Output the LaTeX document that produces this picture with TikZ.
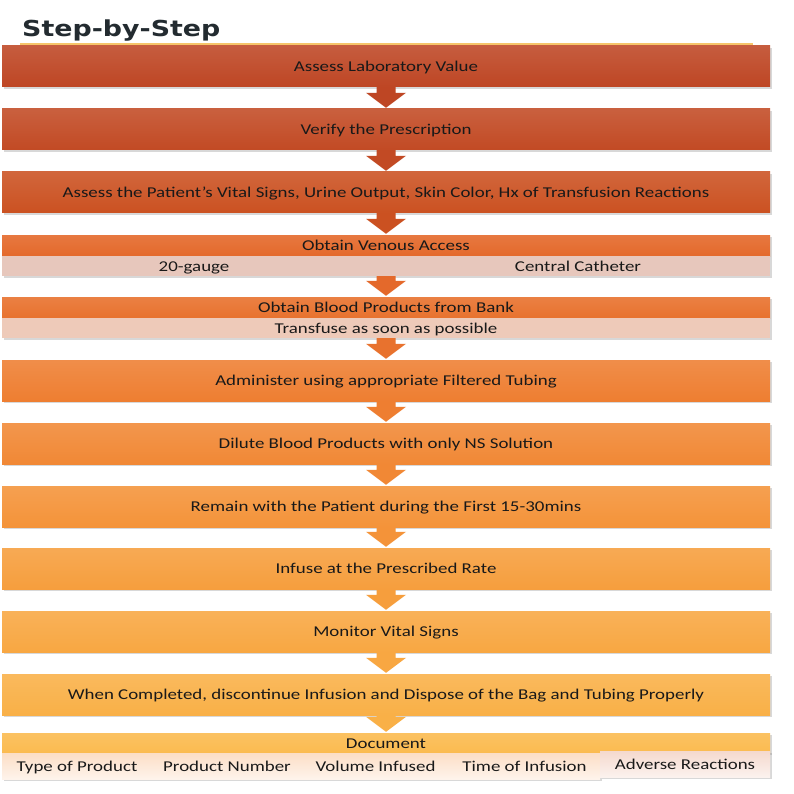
\documentclass[tikz,border=0pt]{standalone}
\usepackage{fontspec}
\setmainfont[FakeStretch=1.26]{Carlito}
\newfontfamily\titlefont[FakeStretch=1.22]{DejaVu Sans}
\usetikzlibrary{calc,shadows}
\definecolor{r1}{HTML}{BE4624}
\definecolor{r2}{HTML}{C24A24}
\definecolor{r3}{HTML}{CB5121}
\definecolor{r4}{HTML}{E4692B}
\definecolor{r5}{HTML}{E8722E}
\definecolor{r6}{HTML}{EE7E31}
\definecolor{r7}{HTML}{F18835}
\definecolor{r8}{HTML}{F49339}
\definecolor{r9}{HTML}{F69E3D}
\definecolor{r10}{HTML}{F8A742}
\definecolor{r11}{HTML}{F9B047}
\definecolor{r12}{HTML}{FBBB50}
\definecolor{subA}{HTML}{E7C7BC}
\definecolor{subB}{HTML}{EECAB9}
\definecolor{subC}{HTML}{FCDEC6}
\definecolor{subD}{HTML}{F5D9CE}
\definecolor{titlec}{HTML}{232B30}
\definecolor{rulec}{HTML}{F6C56A}
\tikzset{
  barbase/.style={inner sep=0pt, text=black!90, font=\fontsize{15}{18}\selectfont,
    text height=10.5pt, text depth=0.5pt,
    drop shadow={shadow xshift=1.5pt, shadow yshift=-2pt, opacity=0.3}},
  bar/.style={barbase, minimum width=768pt, minimum height=41pt,
    top color=#1!88!white, bottom color=#1},
  headbar/.style={barbase, minimum width=768pt, minimum height=21pt,
    top color=#1!90!white, bottom color=#1},
  subcell/.style={barbase, minimum height=20pt, fill=#1},
  doccell/.style={barbase, minimum height=26pt, top color=#1, bottom color=#1!35!white},
}
\newcommand\steparrow[3]{%
  \fill[#3] ($(#1)+(-9.5,0)$) -- ($(#1)+(9.5,0)$) -- ($(#2)+(9.5,16)$) -- ($(#2)+(20,16)$)
    -- ($(#2)+(0,1)$) -- ($(#2)+(-20,16)$) -- ($(#2)+(-9.5,16)$) -- cycle;}
\begin{document}
\begin{tikzpicture}[x=1pt,y=1pt]
\useasboundingbox (0,0) rectangle (794,-794);
\fill[white] (0,0) rectangle (794,-794);
% title
\node[anchor=base west, inner sep=0pt, text=titlec, font=\titlefont\bfseries\fontsize{22}{26}\selectfont] (title) at (22,-37) {Step-by-Step};
\coordinate (ruleL) at (20,-44);
\coordinate (ruleR) at (753,-44);
\draw[rulec, line width=2pt] (ruleL) -- (ruleR);
% bars
\node[bar=r1] (b1) at (386,-66.5) {Assess Laboratory Value};
\node[bar=r2] (b2) at (386,-129.5) {Verify the Prescription};
\node[bar=r3] (b3) at (386,-192.5) {Assess the Patient’s Vital Signs, Urine Output, Skin Color, Hx of Transfusion Reactions};
\node[headbar=r4] (b4) at (386,-245.5) {Obtain Venous Access};
\node[subcell=subA, minimum width=384pt] (b4l) at (194,-266) {20-gauge};
\node[subcell=subA, minimum width=384pt] (b4r) at (578,-266) {Central Catheter};
\node[headbar=r5] (b5) at (386,-307.5) {Obtain Blood Products from Bank};
\node[subcell=subB, minimum width=768pt] (b5s) at (386,-328) {Transfuse as soon as possible};
\node[bar=r6] (b6) at (386,-380.5) {Administer using appropriate Filtered Tubing};
\node[bar=r7] (b7) at (386,-443.5) {Dilute Blood Products with only NS Solution};
\node[bar=r8] (b8) at (386,-506.5) {Remain with the Patient during the First 15-30mins};
\node[bar=r9] (b9) at (386,-568.5) {Infuse at the Prescribed Rate};
\node[bar=r10] (b10) at (386,-631.5) {Monitor Vital Signs};
\node[bar=r11] (b11) at (386,-694.5) {When Completed, discontinue Infusion and Dispose of the Bag and Tubing Properly};
\node[headbar=r12, minimum height=20pt] (b12) at (386,-743) {Document};
\node[doccell=subC, minimum width=150pt] (d1) at (77,-766) {Type of Product};
\node[doccell=subC, minimum width=150pt] (d2) at (227,-766) {Product Number};
\node[doccell=subC, minimum width=147pt] (d3) at (375.5,-766) {Volume Infused};
\node[doccell=subC, minimum width=151pt] (d4) at (524.5,-766) {Time of Infusion};
\node[doccell=subD, minimum width=170pt] (d5) at (685,-764) {Adverse Reactions};
% arrows
\steparrow{b1.south}{b2.north}{r1}
\steparrow{b2.south}{b3.north}{r2}
\steparrow{b3.south}{b4.north}{r3}
\steparrow{b4l.south east}{b5.north}{r4}
\steparrow{b5s.south}{b6.north}{r5}
\steparrow{b6.south}{b7.north}{r6}
\steparrow{b7.south}{b8.north}{r7}
\steparrow{b8.south}{b9.north}{r8}
\steparrow{b9.south}{b10.north}{r9}
\steparrow{b10.south}{b11.north}{r10}
\steparrow{b11.south}{b12.north}{r11}
\end{tikzpicture}
\end{document}
